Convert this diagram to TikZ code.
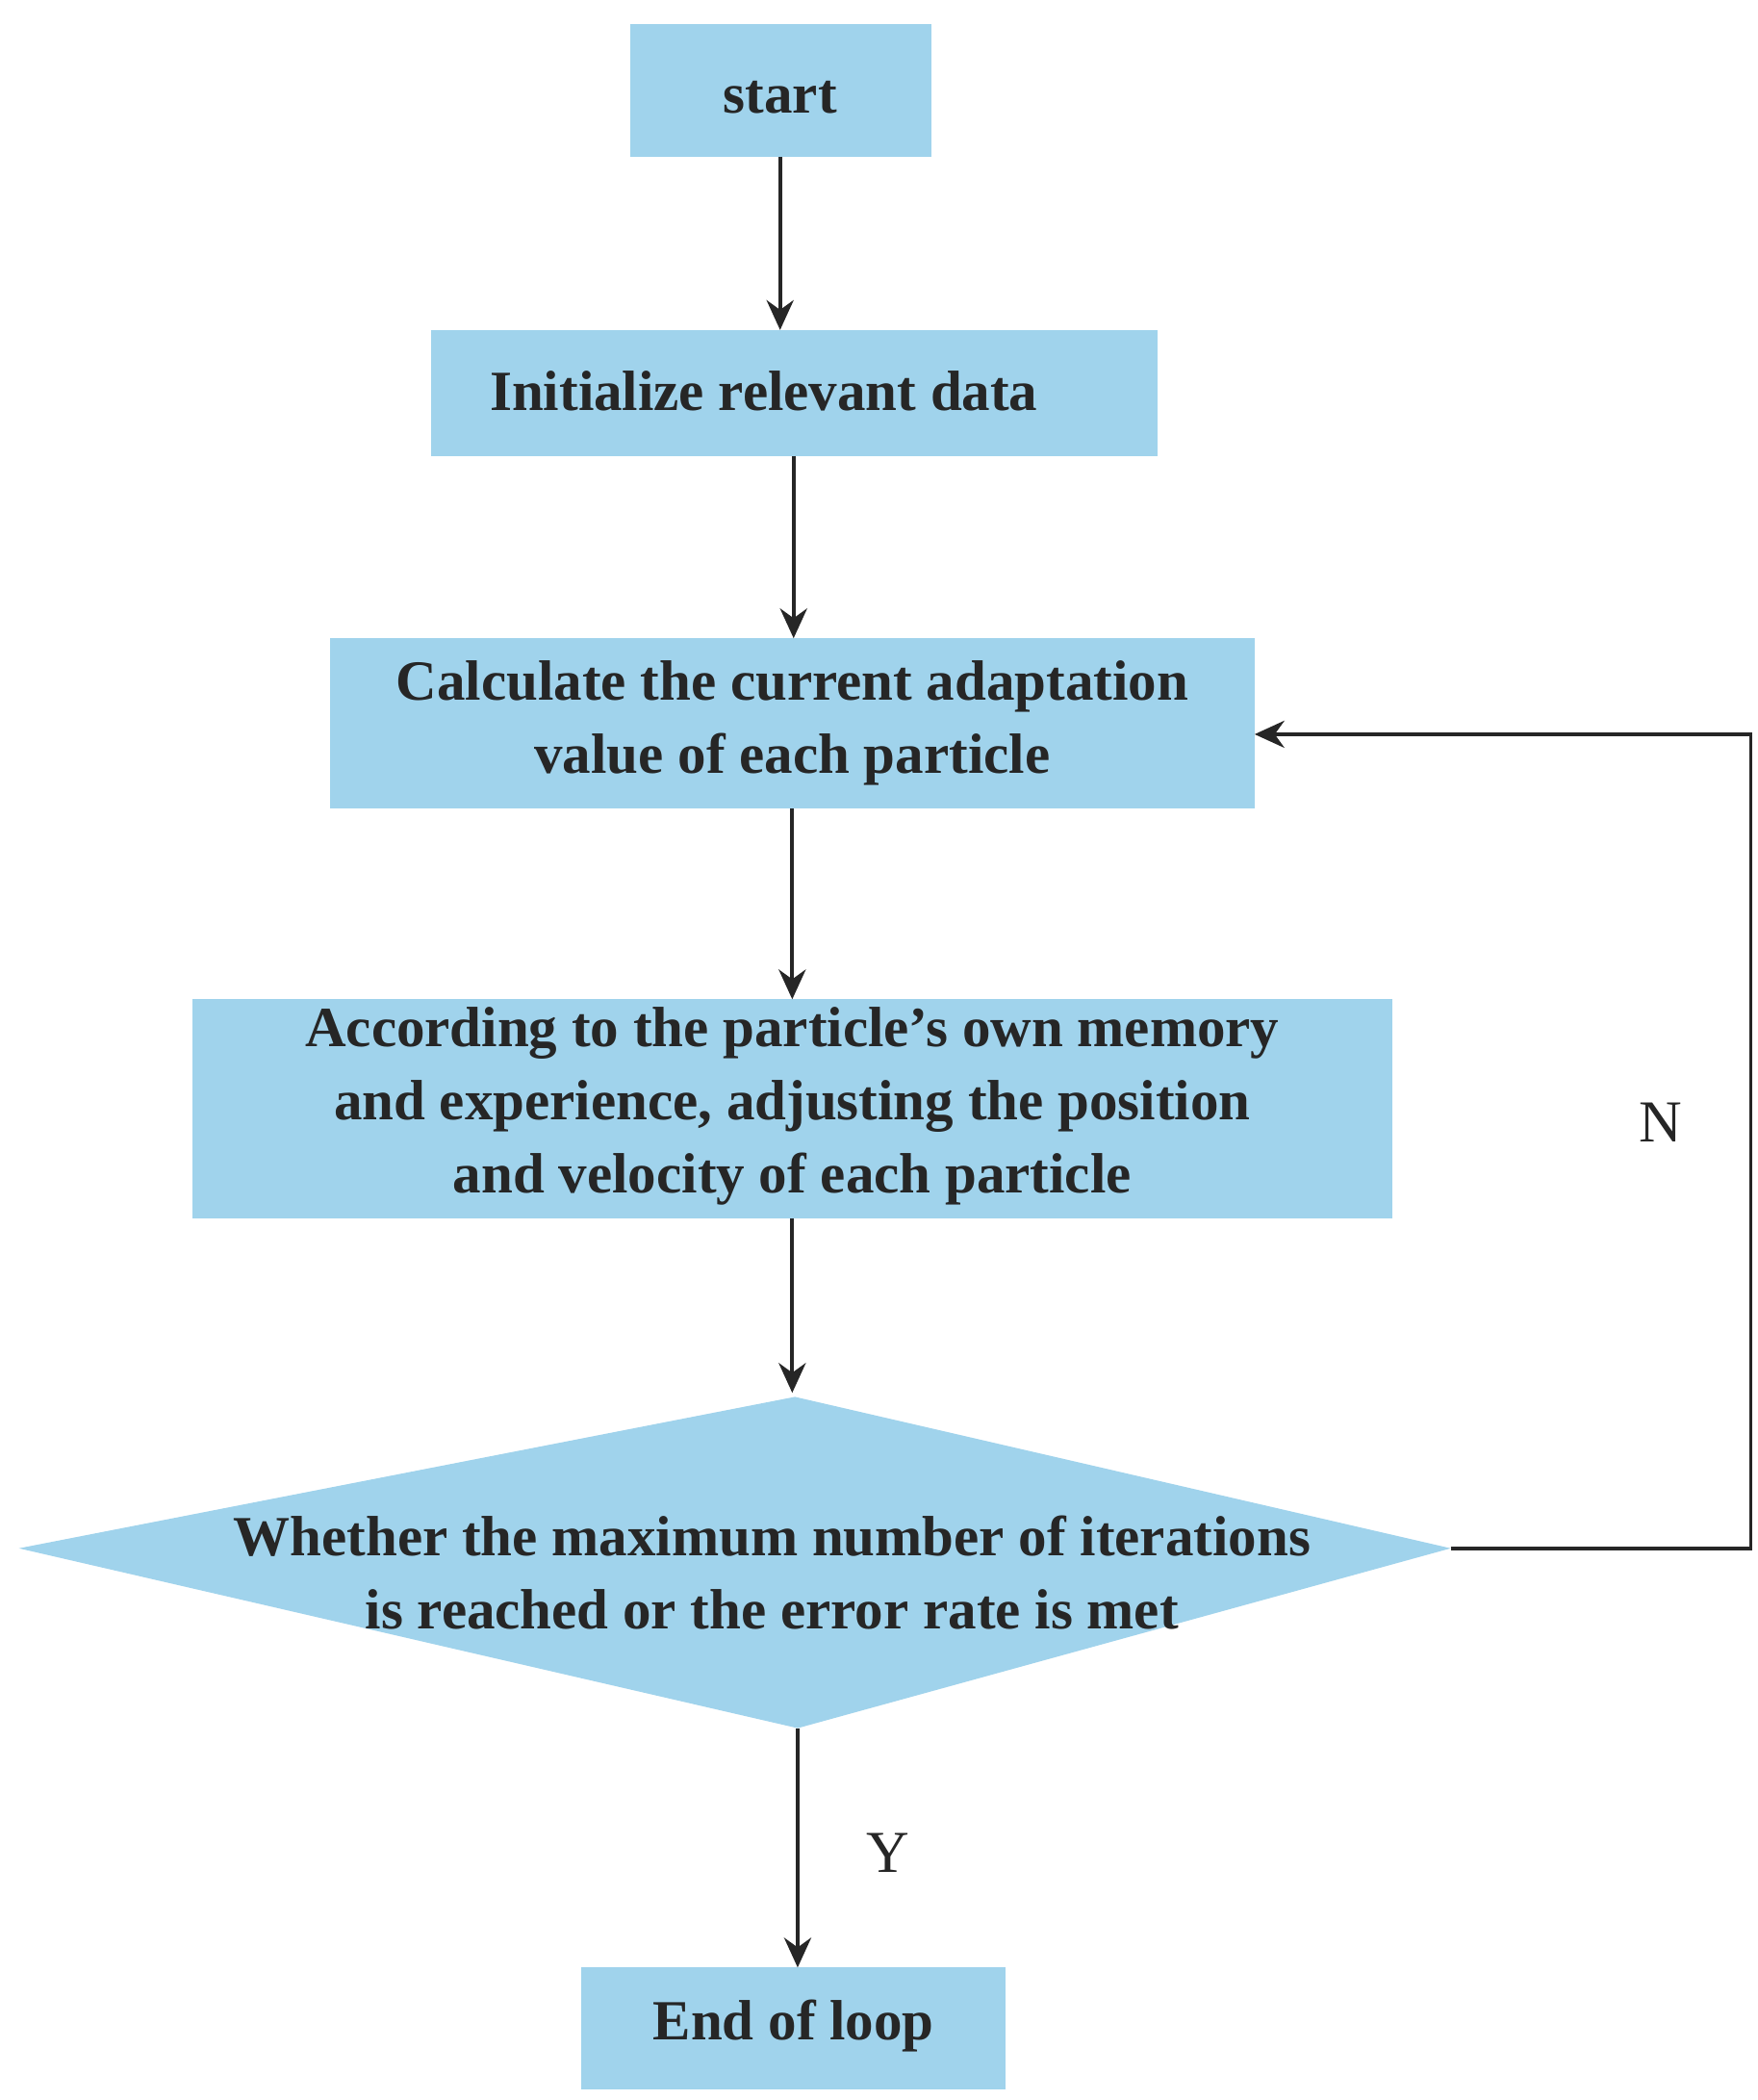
\documentclass[tikz,border=0pt]{standalone}
\usepackage{fontspec}
\setmainfont{Liberation Serif}
\usetikzlibrary{arrows.meta}
\definecolor{boxblue}{RGB}{160,211,236}
\begin{document}
\begin{tikzpicture}[x=0.5pt,y=-0.5pt,
  box/.style={fill=boxblue,draw=none},
  lbl/.style={font=\fontsize{21}{27}\selectfont\bfseries,align=center,text=black!85},
  arr/.style={-{Stealth[length=11pt,width=10pt]},line width=1.4pt,black!85}]
\useasboundingbox[fill=white] (0,0) rectangle (1300,1553);
\fill[box] (466,18) rectangle (689,116);
\node[lbl] (start) at (577,72) {start};
\fill[box] (319,244) rectangle (856,337);
\node[lbl] (init) at (565,289) {Initialize relevant data};
\fill[box] (244,472) rectangle (928,598);
\node[lbl] (calc) at (586,535) {Calculate the current adaptation\\value of each particle};
\fill[box] (142,739) rectangle (1030,901);
\node[lbl] (acc) at (586,818) {According to the particle's own memory\\and experience, adjusting the position\\and velocity of each particle};
\fill[box] (588,1033) -- (1073,1145) -- (590,1278) -- (14,1145) -- cycle;
\node[lbl] (dec) at (571,1163) {Whether the maximum number of iterations\\is reached or the error rate is met};
\fill[box] (430,1455) rectangle (744,1545);
\node[lbl] (end) at (587,1498) {End of loop};
\coordinate (s1) at (577,116); \coordinate (s2) at (577,244);
\coordinate (i1) at (587,337); \coordinate (i2) at (587,472);
\coordinate (c1) at (586,598); \coordinate (c2) at (586,739);
\coordinate (a1) at (586,901); \coordinate (a2) at (586,1030);
\coordinate (d1) at (590,1278); \coordinate (d2) at (590,1455);
\coordinate (dr) at (1073,1145); \coordinate (cr) at (928,543);
\draw[arr] (s1) -- (s2);
\draw[arr] (i1) -- (i2);
\draw[arr] (c1) -- (c2);
\draw[arr] (a1) -- (a2);
\draw[arr] (d1) -- (d2);
\draw[arr] (dr) -- (1295,1145) -- (1295,543) -- (cr);
\node[font=\fontsize{22}{26}\selectfont,text=black!85] (Y) at (657,1370) {Y};
\node[font=\fontsize{22}{26}\selectfont,text=black!85] (N) at (1228,830) {N};
\end{tikzpicture}
\end{document}
